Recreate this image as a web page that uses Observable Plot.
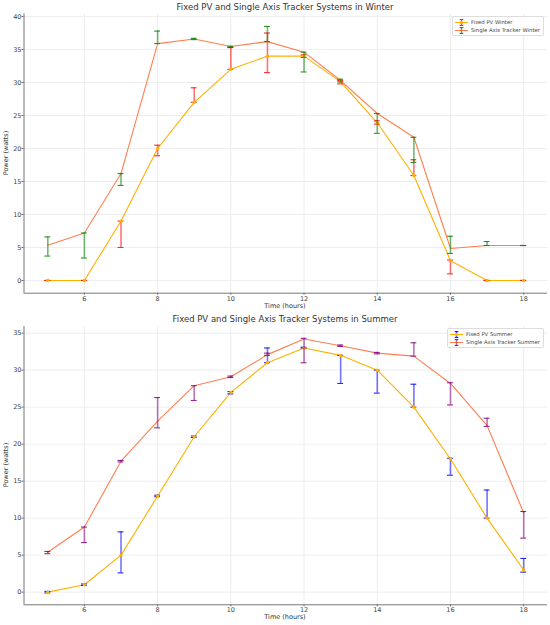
<!DOCTYPE html>
<html><head><meta charset="utf-8">
<script src="https://cdn.jsdelivr.net/npm/d3@7"></script>
<script src="https://cdn.jsdelivr.net/npm/@observablehq/plot@0.6"></script>
<style>
body{margin:0;background:#fff;font-family:"DejaVu Sans",sans-serif;}
#wrap{position:relative;width:550px;height:625px;overflow:hidden;background:#fff;}
.panel{position:absolute;left:0;}
.title{position:absolute;left:23px;width:524px;text-align:center;font-size:8.5px;color:#333;white-space:nowrap;line-height:10px;}
.xlab{position:absolute;left:23px;width:524px;text-align:center;font-size:6.5px;color:#333;line-height:7px;}
.ylab{position:absolute;width:100px;height:8px;line-height:8px;text-align:center;font-size:6.5px;color:#333;transform:rotate(-90deg);white-space:nowrap;}
.legend{position:absolute;background:#fff;border:0.8px solid #ddd;border-radius:2px;font-size:5.3px;color:#444;padding:1px 3px 1px 2px;}
.legend div{display:flex;align-items:center;height:8px;white-space:nowrap;}
.legend svg{margin-right:3px;}
</style>
</head><body>
<div id="wrap"></div>
<script>
const hours = [5,6,7,8,9,10,11,12,13,14,15,16,17,18];
const xTicks = [6,8,10,12,14,16,18];

// Winter
const winterFixed     = [0, 0, 9,   20,   27,   32,   34,   34,   30.1, 23.9, 15.9, 3,   0, 0];
const winterFixedLo   = [0, 0, 5,   18.9, 27,   32,   31.5, 33.8, 29.8, 23.7, 15.9, 1,   0, 0];
const winterFixedHi   = [0, 0, 9,   20.5, 29.2, 35.3, 37.5, 34.2, 30.3, 24.2, 18.3, 3.1, 0, 0];
const winterTracker   = [5.35, 7.2, 16.2, 35.9, 36.6, 35.45, 36.2, 34.6, 30.3, 25.3, 21.7, 4.85, 5.3, 5.3];
const winterTrackerLo = [3.7,  3.4, 14.4, 35.9, 36.5, 35.3,  36.2, 31.6, 30.1, 22.3, 17.9, 4.1,  5.3, 5.3];
const winterTrackerHi = [6.6,  7.2, 16.2, 37.8, 36.7, 35.5,  38.5, 34.6, 30.5, 25.3, 21.7, 6.7,  5.9, 5.3];
const winterYTicks = [0,5,10,15,20,25,30,35,40];

// Summer
const summerFixed     = [0,    1,   5,    13,   21,   27,   31, 33,   32,   30,   25,   18,   10,   3];
const summerFixedLo   = [-0.1, 0.9, 2.6,  12.9, 20.9, 26.8, 31, 33,   28.2, 26.9, 25,   15.8, 10,   2.7];
const summerFixedHi   = [0.1,  1.1, 8.15, 13.1, 21.1, 27.1, 33, 33.1, 32,   30,   28.1, 18.1, 13.8, 4.55];
const summerTracker   = [5.4, 8.8, 17.7, 23.1, 27.9, 29.1, 32.1, 34.2, 33.3, 32.3, 31.9, 28.2, 22.5, 10.7];
const summerTrackerLo = [5.2, 6.7, 17.6, 22.2, 25.9, 29.0, 32.0, 31.0, 33.2, 32.2, 31.9, 25.3, 22.4, 7.3];
const summerTrackerHi = [5.5, 8.8, 17.8, 26.3, 27.9, 29.2, 32.3, 34.3, 33.4, 32.4, 33.7, 28.3, 23.5, 10.9];
const summerYTicks = [0,5,10,15,20,25,30,35];

const fixedColor = "#FFB000";
const trackerColor = "#FF7F50";
const capHalf = 0.08;

function rows(v, lo, hi){ return hours.map((h,i)=>({hour:h, v:v[i], lo:lo[i], hi:hi[i]})); }

function errMarks(data, color){
  return [
    Plot.ruleX(data, {x:"hour", y1:"lo", y2:"hi", stroke:color, strokeWidth:1.6, strokeOpacity:0.55}),
    Plot.ruleY(data, {x1:d=>d.hour-capHalf, x2:d=>d.hour+capHalf, y:"lo", stroke:color, strokeWidth:1.1, strokeOpacity:0.85}),
    Plot.ruleY(data, {x1:d=>d.hour-capHalf, x2:d=>d.hour+capHalf, y:"hi", stroke:color, strokeWidth:1.1, strokeOpacity:0.85})
  ];
}

function makePanel(cfg){
  const xDomain = [4.35, 18.65];
  const fx = rows(cfg.fixed, cfg.fixedLo, cfg.fixedHi);
  const tr = rows(cfg.tracker, cfg.trackerLo, cfg.trackerHi);
  const chart = Plot.plot({
    width:550, height:cfg.height,
    marginLeft:23.5, marginRight:3, marginTop:cfg.mt, marginBottom:cfg.mb,
    style:{fontFamily:"DejaVu Sans", fontSize:"6.5px", color:"#444", background:"transparent", overflow:"visible"},
    x:{domain:xDomain},
    y:{domain:cfg.yDomain},
    marks:[
      Plot.gridX(xTicks, {stroke:"#e8e8e8", strokeOpacity:1, strokeWidth:0.8}),
      Plot.gridY(cfg.yTicks, {stroke:"#e8e8e8", strokeOpacity:1, strokeWidth:0.8}),
      Plot.axisX({ticks:xTicks, tickSize:2, tickPadding:1, label:null, stroke:"#666", fill:"#444"}),
      Plot.axisY({ticks:cfg.yTicks, tickSize:2, tickPadding:0.5, label:null, stroke:"#666", fill:"#444"}),
      Plot.ruleX([xDomain[0]], {stroke:"#777", strokeWidth:1}),
      Plot.ruleY([cfg.yDomain[0]], {stroke:"#777", strokeWidth:1}),
      Plot.line(fx, {x:"hour", y:"v", stroke:fixedColor, strokeWidth:1.1}),
      ...errMarks(fx, cfg.fixedErr),
      Plot.dot(fx, {x:"hour", y:"v", fill:fixedColor, r:1.7}),
      Plot.line(tr, {x:"hour", y:"v", stroke:trackerColor, strokeWidth:1.1}),
      ...errMarks(tr, cfg.trackerErr),
      Plot.dot(tr, {x:"hour", y:"v", symbol:"plus", fill:"#F0602A", r:1.5})
    ]
  });
  const p = document.createElement("div");
  p.className = "panel";
  p.style.top = cfg.top + "px";
  p.appendChild(chart);
  wrap.appendChild(p);

  const t = document.createElement("div");
  t.className = "title"; t.textContent = cfg.title; t.style.top = cfg.titleTop + "px";
  wrap.appendChild(t);
  const xl = document.createElement("div");
  xl.className = "xlab"; xl.textContent = "Time (hours)"; xl.style.top = cfg.xlabTop + "px";
  wrap.appendChild(xl);
  const yl = document.createElement("div");
  yl.className = "ylab"; yl.textContent = "Power (watts)";
  yl.style.left = (6 - 50) + "px"; yl.style.top = (cfg.ylabMid - 4) + "px";
  wrap.appendChild(yl);

  const lg = document.createElement("div");
  lg.className = "legend";
  lg.style.left = cfg.legLeft + "px"; lg.style.top = cfg.legTop + "px";
  const handle = (line, err, sym) => `<svg width="13" height="7" viewBox="0 0 13 7">
    <line x1="0" y1="3.5" x2="13" y2="3.5" stroke="${line}" stroke-width="1.1"/>
    <line x1="6.5" y1="0.6" x2="6.5" y2="6.4" stroke="${err}" stroke-width="1.4" stroke-opacity="0.6"/>
    <line x1="4.7" y1="0.6" x2="8.3" y2="0.6" stroke="${err}" stroke-width="1"/>
    <line x1="4.7" y1="6.4" x2="8.3" y2="6.4" stroke="${err}" stroke-width="1"/>
    ${sym ? `<circle cx="6.5" cy="3.5" r="1.5" fill="${line}"/>` : `<path d="M5.3 3.5H7.7M6.5 2.3V4.7" stroke="#F0602A" stroke-width="0.9"/>`}
  </svg>`;
  lg.innerHTML = `<div>${handle(fixedColor, cfg.fixedErr, true)}<span>${cfg.leg1}</span></div>
                  <div>${handle(trackerColor, cfg.trackerErr, false)}<span>${cfg.leg2}</span></div>`;
  wrap.appendChild(lg);
}

const wrap = document.getElementById("wrap");

makePanel({
  title:"Fixed PV and Single Axis Tracker Systems in Winter",
  fixed:winterFixed, fixedLo:winterFixedLo, fixedHi:winterFixedHi,
  tracker:winterTracker, trackerLo:winterTrackerLo, trackerHi:winterTrackerHi,
  fixedErr:"#FF0000", trackerErr:"#008000",
  yDomain:[-1.93, 40.4], yTicks:winterYTicks,
  top:0, height:312, mt:13.4, mb:19.3,
  titleTop:2, xlabTop:302.5, ylabMid:153,
  legLeft:452, legTop:16,
  leg1:"Fixed PV Winter", leg2:"Single Axis Tracker Winter"
});

makePanel({
  title:"Fixed PV and Single Axis Tracker Systems in Summer",
  fixed:summerFixed, fixedLo:summerFixedLo, fixedHi:summerFixedHi,
  tracker:summerTracker, trackerLo:summerTrackerLo, trackerHi:summerTrackerHi,
  fixedErr:"#0000FF", trackerErr:"#800080",
  yDomain:[-1.71, 35.9], yTicks:summerYTicks,
  top:312, height:313, mt:14, mb:20.7,
  titleTop:314, xlabTop:614, ylabMid:465,
  legLeft:447, legTop:328,
  leg1:"Fixed PV Summer", leg2:"Single Axis Tracker Summer"
});
</script>
</body></html>
